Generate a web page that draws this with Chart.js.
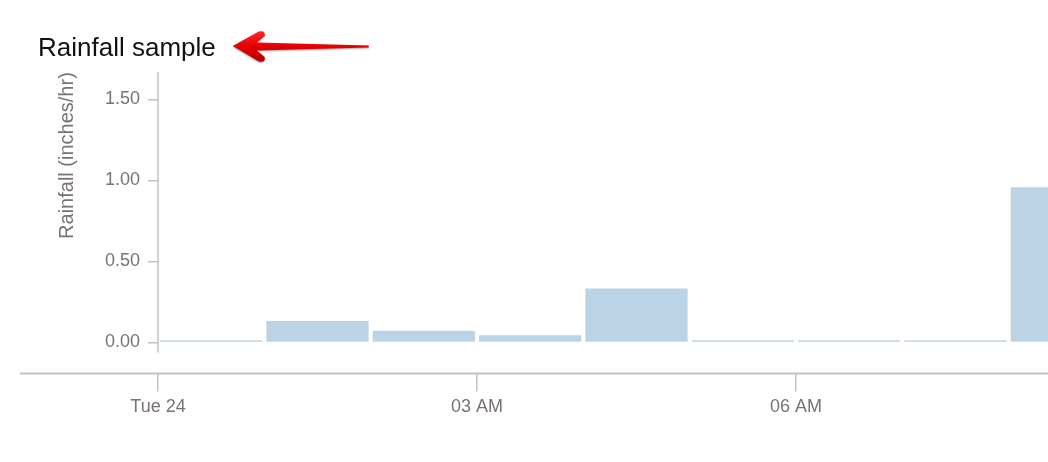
<!DOCTYPE html>
<html>
<head>
<meta charset="utf-8">
<title>Rainfall sample</title>
<script src="https://cdn.jsdelivr.net/npm/chart.js@4.4.1/dist/chart.umd.min.js"></script>
<style>
    html, body { margin: 0; padding: 0; background: #fff; }
    #wrap { width: 1048px; height: 462px; position: relative; }
</style>
</head>
<body>
<div id="wrap"><canvas id="rainChart"></canvas></div>
<script>
// data: one bar per hour, starting at midnight
const barHours = [0, 1, 2, 3, 4, 5, 6, 7, 8];
const rainfall = [0.013, 0.133, 0.072, 0.045, 0.333, 0.013, 0.013, 0.013, 0.957];

const xTickHours = [0, 3, 6];
const xTickLabels = ['Tue 24', '03 AM', '06 AM'];
const yTickValues = [0, 0.5, 1, 1.5];

// axis extents (hours / inches per hour)
const xDomainStart = -1.3;
const xMax = 8.37;
const yMin = -0.191;
const yMax = 1.667;
const yAxisBottom = -0.062;

const axisGray = '#c2c2c2';
const textGray = '#7a7272';
const fontStack = "'Helvetica Neue', 'Liberation Sans', Arial, sans-serif";

Chart.defaults.font.family = fontStack;

// x axis line runs over the whole time domain, y axis line stops just under zero
const axisLines = {
    id: 'axisLines',
    afterDraw(chart) {
        const { ctx, chartArea, scales: { x, y } } = chart;
        ctx.save();
        ctx.strokeStyle = axisGray;
        ctx.lineWidth = 2;
        ctx.beginPath();
        ctx.moveTo(x.getPixelForValue(xDomainStart), chartArea.bottom);
        ctx.lineTo(chartArea.right, chartArea.bottom);
        ctx.stroke();
        ctx.lineWidth = 1.5;
        ctx.beginPath();
        ctx.moveTo(chartArea.left, chartArea.top);
        ctx.lineTo(chartArea.left, y.getPixelForValue(yAxisBottom));
        ctx.stroke();
        ctx.restore();
    }
};

// red pointer arrow next to the title
const titleArrow = {
    id: 'titleArrow',
    afterDraw(chart) {
        const tb = chart.titleBlock;
        if (!tb) return;
        const { ctx } = chart;
        ctx.save();
        ctx.font = '26px ' + fontStack;
        const w = ctx.measureText(tb.options.text).width;
        const tx = tb.left + w + 17;
        const ty = 46;
        const grad = ctx.createLinearGradient(0, ty - 15, 0, ty + 15);
        grad.addColorStop(0, '#ff2a2a');
        grad.addColorStop(0.5, '#e60000');
        grad.addColorStop(1, '#b80000');
        ctx.fillStyle = grad;
        ctx.shadowColor = 'rgba(0,0,0,0.35)';
        ctx.shadowBlur = 2;
        ctx.shadowOffsetY = 1;
        ctx.beginPath();
        ctx.moveTo(tx, ty);
        ctx.lineTo(tx + 26, ty - 14.5);
        ctx.quadraticCurveTo(tx + 33, ty - 16, tx + 32, ty - 10);
        ctx.lineTo(tx + 24, ty - 3.5);
        ctx.lineTo(tx + 136, ty - 0.5);
        ctx.lineTo(tx + 136, ty + 1.5);
        ctx.lineTo(tx + 24, ty + 4.5);
        ctx.lineTo(tx + 32, ty + 11);
        ctx.quadraticCurveTo(tx + 33, ty + 17, tx + 26, ty + 15.5);
        ctx.closePath();
        ctx.fill();
        ctx.restore();
    }
};

const ctx = document.getElementById('rainChart').getContext('2d');
new Chart(ctx, {
    type: 'bar',
    data: {
        datasets: [{
            label: 'Rainfall',
            data: barHours.map((h, i) => ({ x: h + 0.5, y: rainfall[i] })),
            backgroundColor: '#bcd3e6',
            borderWidth: 0,
            barPercentage: 0.962,
            categoryPercentage: 1
        }]
    },
    options: {
        responsive: true,
        maintainAspectRatio: false,
        animation: false,
        layout: { padding: { left: 38, right: 0, top: 0, bottom: 39 } },
        plugins: {
            legend: { display: false },
            tooltip: { enabled: false },
            title: {
                display: true,
                text: 'Rainfall sample',
                align: 'start',
                color: '#111',
                font: { size: 26, weight: 'normal' },
                padding: { top: 33, bottom: 8 }
            }
        },
        scales: {
            x: {
                type: 'linear',
                min: 0,
                max: xMax,
                offset: false,
                afterBuildTicks: s => { s.ticks = xTickHours.map(v => ({ value: v })); },
                border: { display: false },
                grid: { offset: false, drawOnChartArea: false, tickLength: 18, color: axisGray, lineWidth: 1.5 },
                ticks: {
                    autoSkip: false,
                    maxRotation: 0,
                    padding: 5,
                    color: textGray,
                    font: { size: 18 },
                    callback: (v, i) => xTickLabels[i]
                }
            },
            y: {
                min: yMin,
                max: yMax,
                afterBuildTicks: s => { s.ticks = yTickValues.map(v => ({ value: v })); },
                afterFit: s => { s.width = 120; },
                border: { display: false },
                grid: { drawOnChartArea: false, tickLength: 10, color: axisGray, lineWidth: 1.5 },
                ticks: {
                    padding: 8,
                    color: textGray,
                    font: { size: 18 },
                    callback: v => v.toFixed(2)
                },
                title: {
                    display: true,
                    text: 'Rainfall (inches/hr)',
                    align: 'end',
                    color: textGray,
                    font: { size: 20 },
                    padding: { top: 17, bottom: 0 }
                }
            }
        }
    },
    plugins: [axisLines, titleArrow]
});
</script>
</body>
</html>
